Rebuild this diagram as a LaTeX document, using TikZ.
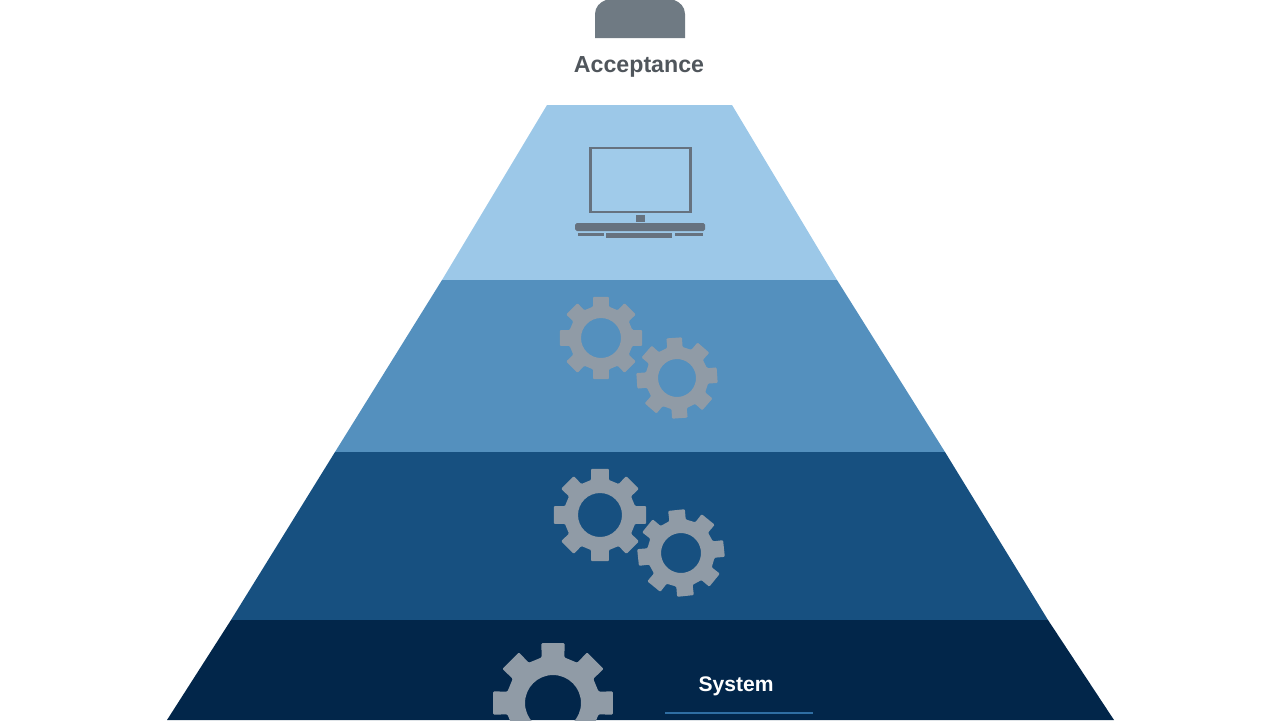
\documentclass[tikz,border=0pt]{standalone}
\usepackage{fontspec}
\setmainfont{Liberation Sans}
\usepackage{xcolor}
\definecolor{tierone}{HTML}{9CC8E8}
\definecolor{tiertwo}{HTML}{5490BE}
\definecolor{tierthree}{HTML}{175080}
\definecolor{tierfour}{HTML}{02264A}
\definecolor{gearcol}{HTML}{909BA6}
\definecolor{capcol}{HTML}{6F7A83}
\definecolor{iconcol}{HTML}{66727F}
\definecolor{screencol}{HTML}{A0CBEA}
\definecolor{labelcol}{HTML}{50565C}
\definecolor{rulecol}{HTML}{2F6EA3}
\usetikzlibrary{positioning}

\begin{document}
\begin{tikzpicture}[x=0.02cm, y=-0.02cm,
        every node/.style={font=\bfseries},
        pics/gearwheel/.style n args={3}{code={
            \fill[gearcol, even odd rule, rounded corners=0.6pt, rotate=#3]
                (-14:#1*0.77)
                \foreach \ang in {0,45,...,315}{
                    -- (\ang-14:#1*0.77) -- (\ang-11:#1) -- (\ang+11:#1) -- (\ang+14:#1*0.77)
                } -- cycle
                (0,0) circle (#2);
        }}]
    \useasboundingbox (0,0) rectangle (1280,720);

    % pyramid tiers
    \fill[tierone] (547,105) -- (732,105) -- (837,280) -- (442,280) -- cycle;
    \fill[tiertwo] (442,280) -- (837,280) -- (945,452) -- (335,452) -- cycle;
    \fill[tierthree] (335,452) -- (945,452) -- (1048,620) -- (231,620) -- cycle;
    \fill[tierfour] (231,620) -- (1048,620) -- (1114,720) -- (167,720) -- cycle;

    % cap above the pyramid
    \fill[capcol] (595,38) -- (595,14) .. controls (595,7) and (600,2) .. (606,0)
        -- (674,0) .. controls (680,2) and (685,7) .. (685,14) -- (685,38) -- cycle;
    \node[text=labelcol, font=\bfseries\fontsize{13.2}{16}\selectfont] (acceptance) at (639,67) {Acceptance};

    % laptop
    \draw[iconcol, fill=screencol, line width=1.7pt] (590,148) rectangle (690,212);
    \fill[iconcol] (636,215) rectangle (645,222);
    \fill[iconcol, rounded corners=1pt] (575,223) rectangle (705,231);
    \fill[iconcol] (578,233) rectangle (604,236);
    \fill[iconcol] (606,233) rectangle (672,238);
    \fill[iconcol] (675,233) rectangle (703,236);

    % gears
    \pic at (601,338) {gearwheel={42}{20}{0}};
    \pic at (677,378) {gearwheel={41}{19}{4}};
    \pic at (600,515) {gearwheel={47}{22}{0}};
    \pic at (681,553) {gearwheel={44}{20}{6}};
    \pic at (553,703) {gearwheel={61}{28}{0}};

    \node[text=white, font=\bfseries\fontsize{12}{14}\selectfont] (system) at (736,686) {System};
    \draw[rulecol, line width=1pt] (665,713) -- (813,713);
\end{tikzpicture}
\end{document}
